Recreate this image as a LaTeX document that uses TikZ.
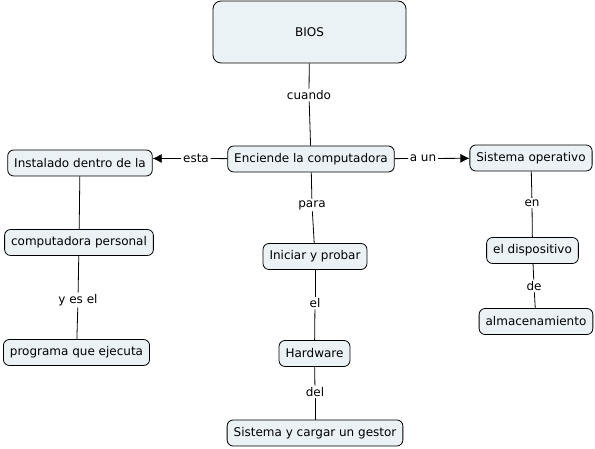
\documentclass[tikz,border=0pt]{standalone}
\usepackage{fontspec}
\setmainfont{DejaVu Sans}
\usetikzlibrary{arrows.meta}
\definecolor{conceptfill}{RGB}{235,242,245}

\begin{document}
\begin{tikzpicture}[x=1pt,y=-1pt,
  every node/.style={font=\fontsize{12}{14}\selectfont},
  concept/.style={draw=black,fill=conceptfill,rounded corners=6pt,line width=0.8pt,
    inner xsep=6.5pt,minimum height=26pt},
  linkword/.style={fill=white,inner sep=1.5pt},
  link/.style={line width=0.8pt},
  arrowlink/.style={line width=0.8pt,-{Latex[length=9pt,width=9pt]}}]
\useasboundingbox (0,0) rectangle (595,449);
% concepts
\node [concept,minimum width=193pt,minimum height=62pt,rounded corners=8pt] (bios) at (309.5,32) {BIOS};
\node [concept] (enc) at (311,159) {Enciende la computadora};
\node [concept] (inst) at (80,163) {Instalado dentro de la};
\node [concept] (so) at (531,158) {Sistema operativo};
\node [concept] (pc) at (79,242.5) {computadora personal};
\node [concept] (prog) at (76.5,352.5) {programa que ejecuta};
\node [concept] (ini) at (315,256.5) {Iniciar y probar};
\node [concept] (hw) at (314.5,353.5) {Hardware};
\node [concept] (sys) at (315,433) {Sistema y cargar un gestor};
\node [concept] (disp) at (532.5,250.5) {el dispositivo};
\node [concept] (alm) at (536,321.5) {almacenamiento};
% linking words
\node [linkword] (cuando) at (309,95) {cuando};
\node [linkword] (esta) at (196,158.5) {esta};
\node [linkword] (aun) at (423,158.5) {a un};
\node [linkword] (para) at (312,205) {para};
\node [linkword] (yes) at (78,300) {y es el};
\node [linkword] (el) at (315,303) {el};
\node [linkword] (del) at (315,392) {del};
\node [linkword] (en) at (532,203) {en};
\node [linkword] (de) at (534,286) {de};
% connections
\draw [link] (bios) -- (cuando);
\draw [link] (cuando) -- (enc);
\draw [link] (enc) -- (esta);
\draw [arrowlink] (esta) -- (inst.east |- esta);
\draw [link] (enc) -- (aun);
\draw [arrowlink] (aun) -- (so);
\draw [link] (enc) -- (para);
\draw [link] (para) -- (ini);
\draw [link] (inst) -- (pc);
\draw [link] (pc) -- (yes);
\draw [link] (yes) -- (prog);
\draw [link] (ini) -- (el);
\draw [link] (el) -- (hw);
\draw [link] (hw) -- (del);
\draw [link] (del) -- (sys);
\draw [link] (so) -- (en);
\draw [link] (en) -- (disp);
\draw [link] (disp) -- (de);
\draw [link] (de) -- (alm);
\end{tikzpicture}
\end{document}
